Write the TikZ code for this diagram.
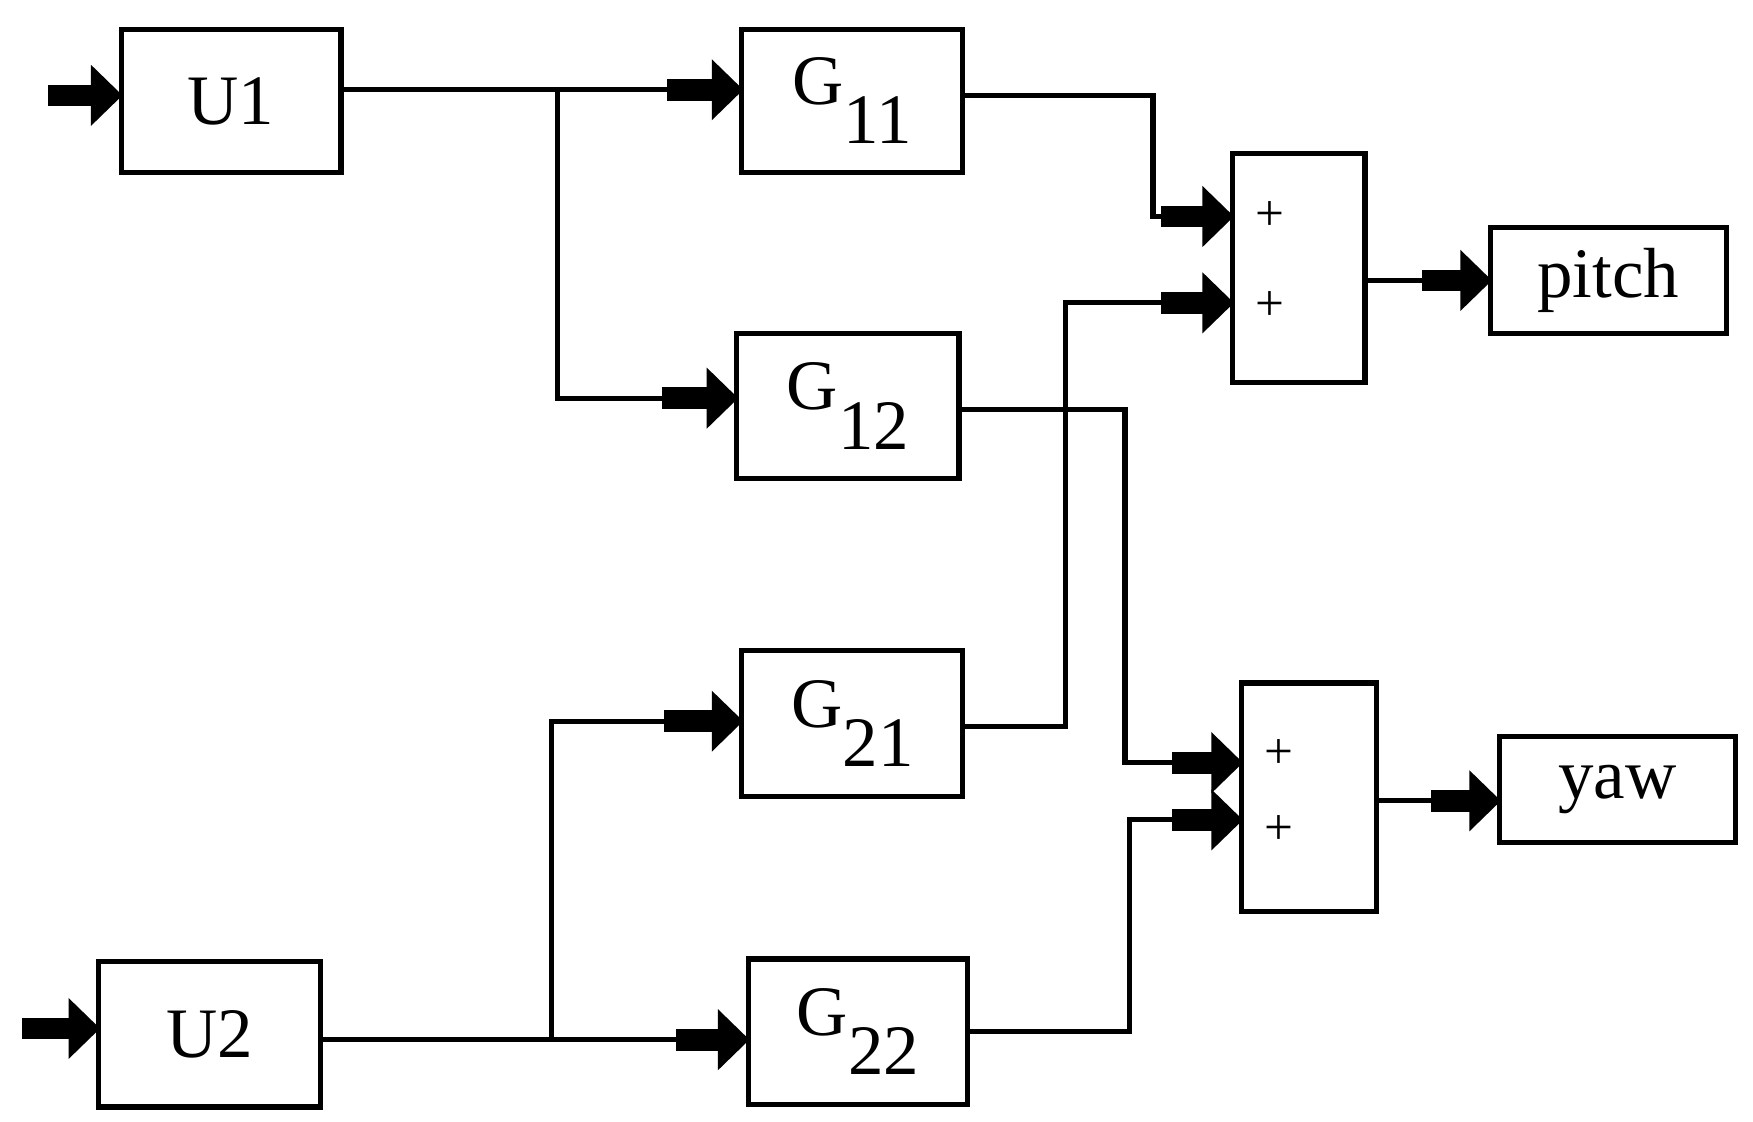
\documentclass[tikz,border=0pt]{standalone}
\usepackage{fontspec}
\setmainfont{Liberation Serif}
\usetikzlibrary{arrows.meta}
\begin{document}
\begin{tikzpicture}[x=0.1mm,y=-0.1mm,
  blk/.style={draw,line width=1.3pt,minimum width=0.1mm*\bw,minimum height=0.1mm*\bh,inner sep=0pt,font=\fontsize{18}{20}\selectfont},
  ln/.style={line width=1.3pt},
  ba/.style={line width=5.5pt,-{Triangle[length=8pt,width=15pt]},shorten >=-1pt},
  pl/.style={font=\fontsize{13}{14}\selectfont}]
\useasboundingbox (0,0) rectangle (1563,1000);
\newcommand{\bx}[6]{\def\bw{#4}\def\bh{#5}\node[blk] (#1) at (#2,#3) {#6};}
\newcommand{\gsub}[2]{#1\raisebox{-0.55em}{#2}}
\bx{U1}{206}{90}{196}{127}{U1}
\bx{G11}{760}{90}{197}{127}{\gsub{G}{11}}
\bx{G12}{756}{362}{198}{130}{\gsub{G}{12}}
\bx{G21}{760}{645}{197}{130}{\gsub{G}{21}}
\bx{G22}{765}{920}{196}{130}{\gsub{G}{22}}
\bx{U2}{187}{922}{198}{130}{U2}
\bx{S1}{1158}{239}{118}{204}{}
\bx{pitch}{1434}{250}{210}{95}{pitch}
\bx{S2}{1167}{711}{120}{204}{}
\bx{yaw}{1442}{704}{210}{94}{yaw}
\node[pl] (p1) at (1132,193) {+};
\node[pl] (p2) at (1132,273) {+};
\node[pl] (p3) at (1140,672) {+};
\node[pl] (p4) at (1140,740) {+};
% inputs
\coordinate (i1) at (43,85); \coordinate (i2) at (20,917);
\draw[ba] (i1) -- (U1.west |- i1);
\draw[ba] (i2) -- (U2.west |- i2);
% U1
\coordinate (j1) at (497,80);
\draw[ln] (U1.east |- j1) -- (G11.west |- j1);
\draw[ln] (j1) |- (G12.west |- 0,355);
\draw[ba] (595,80) -- (G11.west |- j1);
\draw[ba] (590,355) -- (G12.west |- 0,355);
% U2
\coordinate (j2) at (492,927);
\draw[ln] (U2.east |- j2) -- (G22.west |- j2);
\draw[ln] (j2) |- (G21.west |- 0,643);
\draw[ba] (603,927) -- (G22.west |- j2);
\draw[ba] (592,643) -- (G21.west |- 0,643);
% to sum1
\draw[ln] (G11.east |- 0,85) -| (1028,193) -- (S1.west |- 0,193);
\draw[ba] (1035,193) -- (S1.west |- 0,193);
\draw[ln] (G21.east |- 0,648) -| (950,270) -- (S1.west |- 0,270);
\draw[ba] (1035,270) -- (S1.west |- 0,270);
% to sum2
\draw[ln] (G12.east |- 0,365) -| (1003,680) -- (S2.west |- 0,680);
\draw[ba] (1045,680) -- (S2.west |- 0,680);
\draw[ln] (G22.east |- 0,920) -| (1007,731) -- (S2.west |- 0,731);
\draw[ba] (1045,731) -- (S2.west |- 0,731);
% outputs
\draw[ln] (S1.east |- pitch) -- (pitch.west);
\draw[ba] (1268,250) -- (pitch.west);
\draw[ln] (S2.east |- 0,714) -- (yaw.west |- 0,714);
\draw[ba] (1276,714) -- (yaw.west |- 0,714);
\end{tikzpicture}
\end{document}
